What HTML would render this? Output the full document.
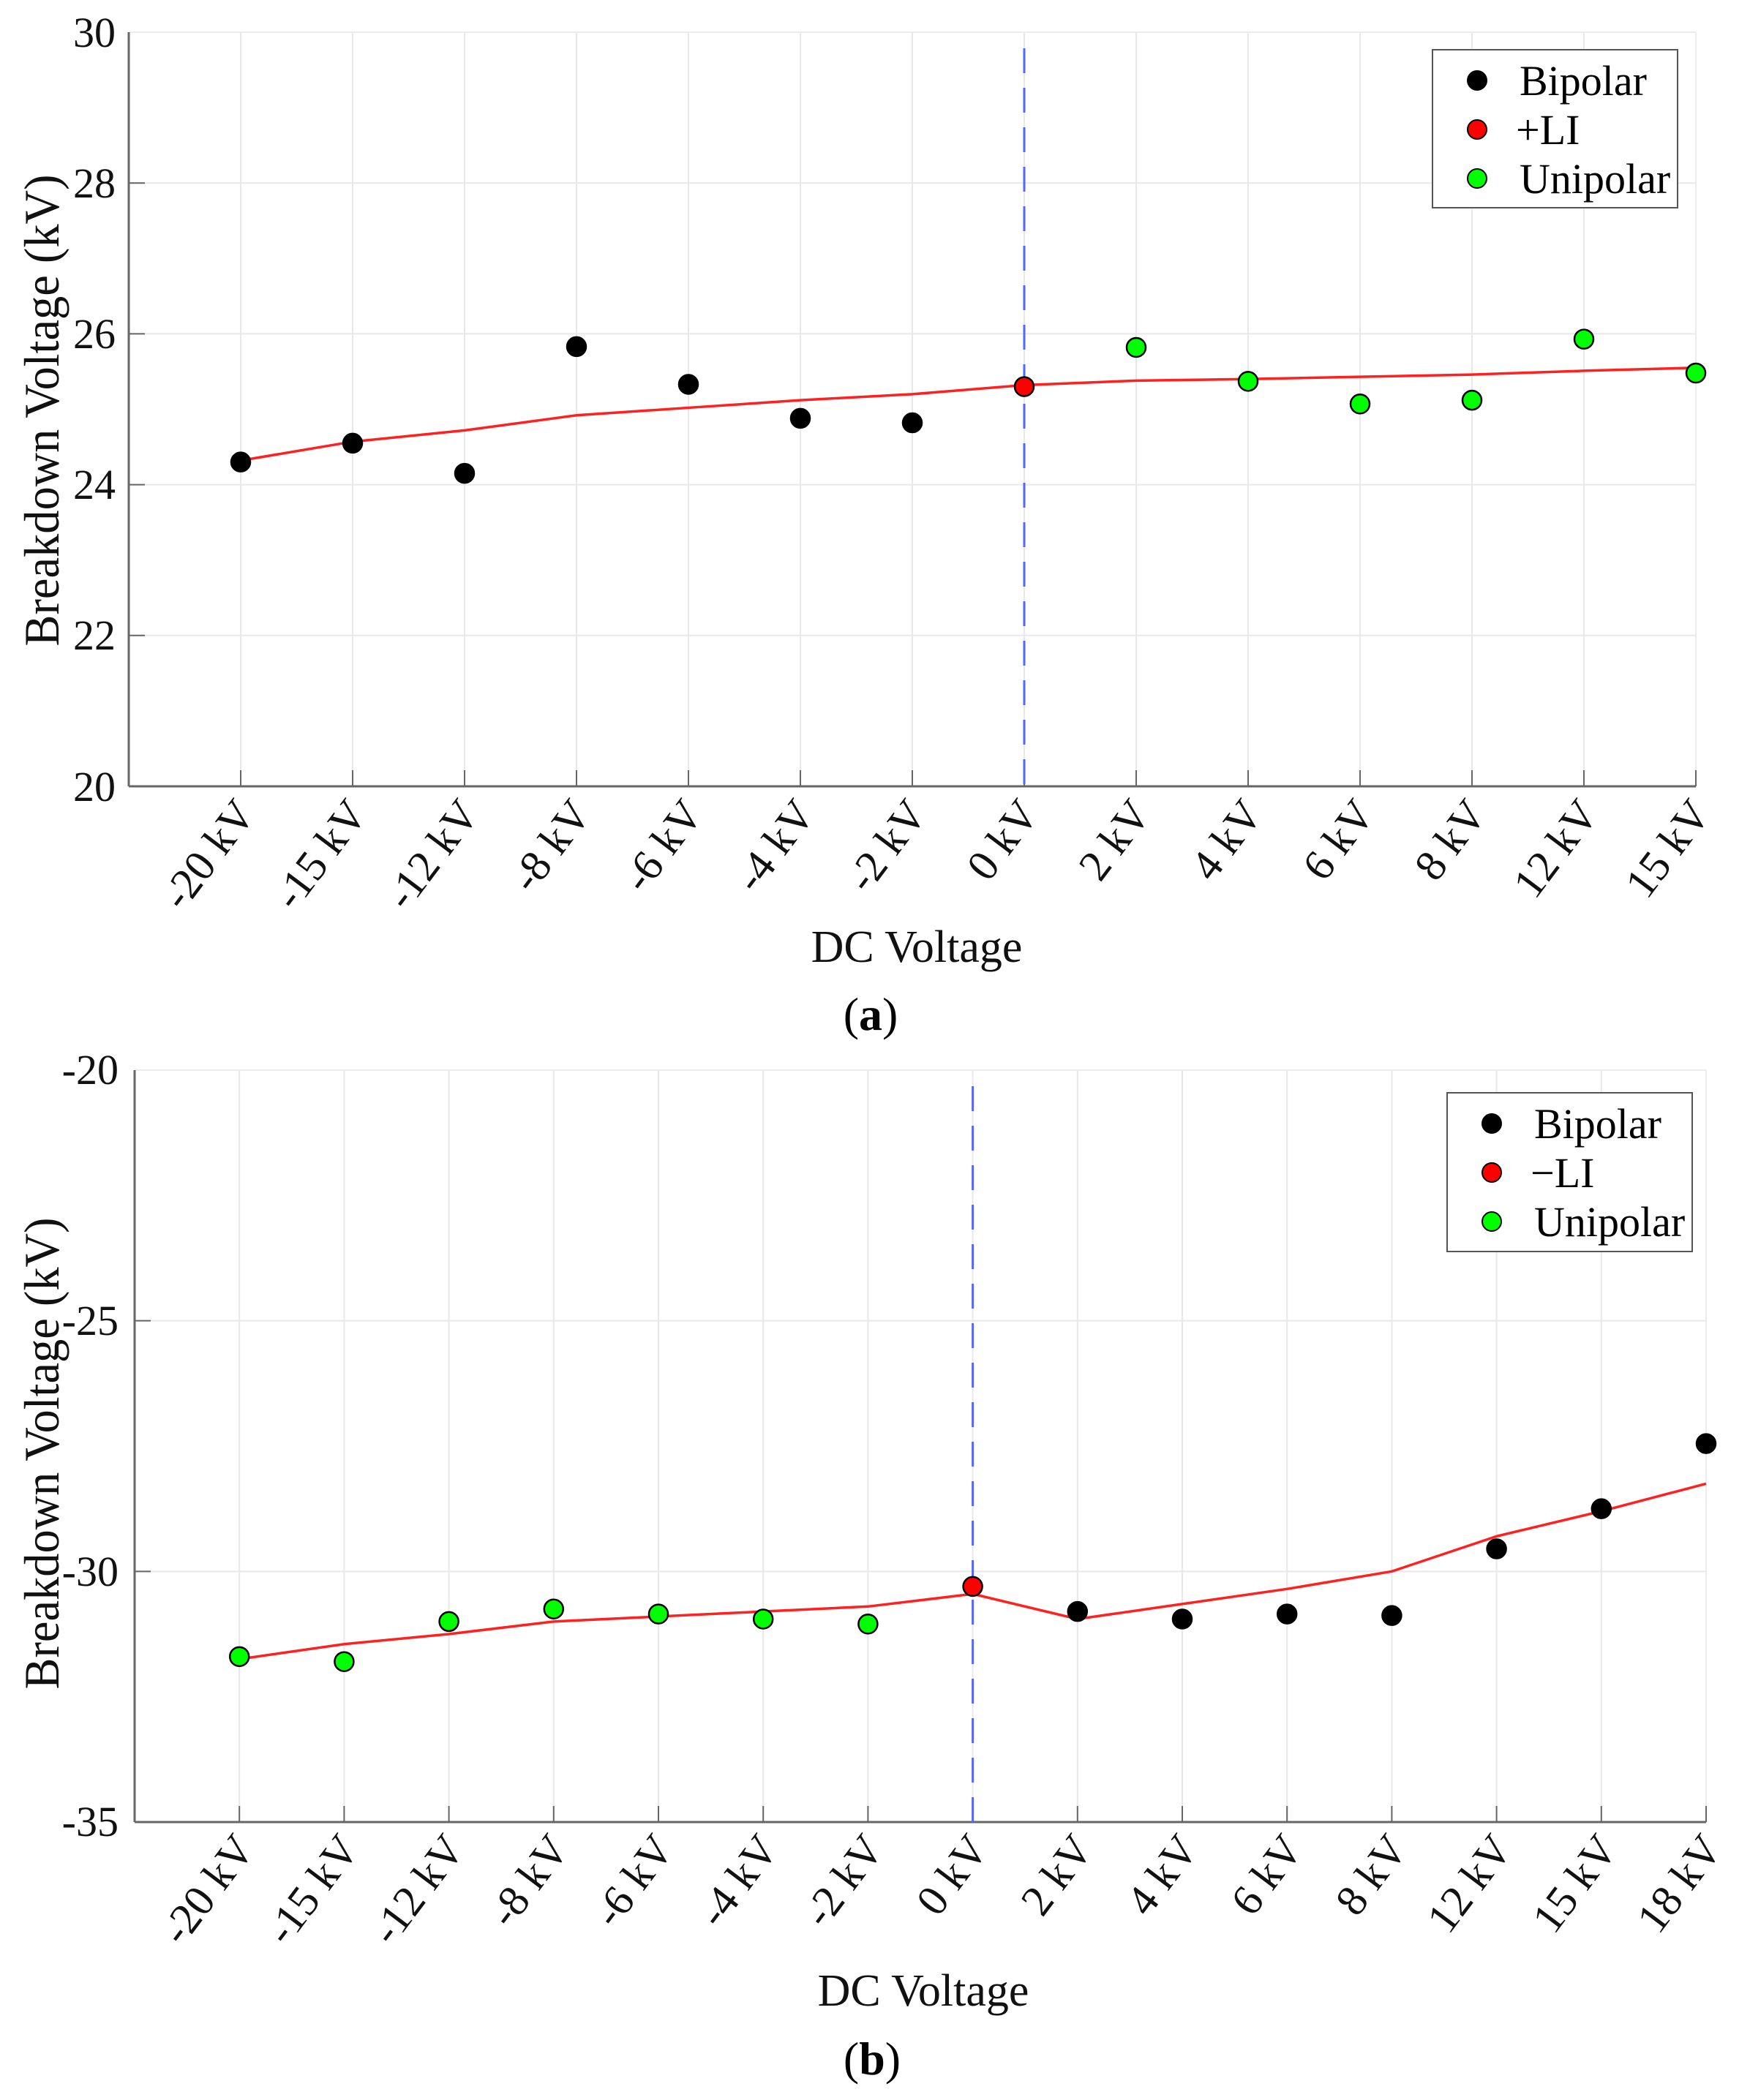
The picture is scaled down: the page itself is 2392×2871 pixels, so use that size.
<!DOCTYPE html>
<html><head><meta charset="utf-8"><style>
html,body{margin:0;padding:0;background:#fff;}
svg{display:block;}
svg text, svg tspan{font-family:"Liberation Serif","DejaVu Serif",serif !important;}
</style></head><body>
<svg id="s" width="2392" height="2871" viewBox="0 0 2392 2871" xmlns="http://www.w3.org/2000/svg" font-family="Liberation Serif, serif">
<rect width="2392" height="2871" fill="#fff"/>
<g id="pa"></g>
<g id="pb"></g>
<g font-size="58" fill="#111" text-anchor="end">
<text x="158" y="64">30</text>
<text x="158" y="270">28</text>
<text x="158" y="476">26</text>
<text x="158" y="682">24</text>
<text x="158" y="888">22</text>
<text x="158" y="1095">20</text>
</g>
<g font-size="60" fill="#111" text-anchor="end">
<text transform="translate(351,1113) rotate(-53)">-20 kV</text>
<text transform="translate(504,1113) rotate(-53)">-15 kV</text>
<text transform="translate(657,1113) rotate(-53)">-12 kV</text>
<text transform="translate(810,1113) rotate(-53)">-8 kV</text>
<text transform="translate(963,1113) rotate(-53)">-6 kV</text>
<text transform="translate(1116,1113) rotate(-53)">-4 kV</text>
<text transform="translate(1269,1113) rotate(-53)">-2 kV</text>
<text transform="translate(1422,1113) rotate(-53)">0 kV</text>
<text transform="translate(1575,1113) rotate(-53)">2 kV</text>
<text transform="translate(1728,1113) rotate(-53)">4 kV</text>
<text transform="translate(1881,1113) rotate(-53)">6 kV</text>
<text transform="translate(2034,1113) rotate(-53)">8 kV</text>
<text transform="translate(2187,1113) rotate(-53)">12 kV</text>
<text transform="translate(2340,1113) rotate(-53)">15 kV</text>
</g>
<text transform="translate(80,561) rotate(-90)" font-size="68" text-anchor="middle" textLength="645" lengthAdjust="spacingAndGlyphs" fill="#111">Breakdown Voltage (kV)</text>
<text x="1253" y="1315" font-size="62" text-anchor="middle" fill="#111">DC Voltage</text>
<text x="1190" y="1408" font-size="64" text-anchor="middle" fill="#000">(<tspan font-weight="bold">a</tspan>)</text>
<rect x="1958" y="68" width="335" height="216" fill="#fff" stroke="#555" stroke-width="2"/>
<circle cx="2019" cy="110" r="13" fill="#000" stroke="#000" stroke-width="2"/>
<circle cx="2019" cy="177" r="13" fill="#f00" stroke="#000" stroke-width="2"/>
<circle cx="2019" cy="244" r="13" fill="#0f0" stroke="#000" stroke-width="2"/>
<g font-size="58" fill="#000">
<text x="2077" y="130">Bipolar</text>
<text x="2072" y="197">+LI</text>
<text x="2077" y="264">Unipolar</text>
</g>
<g font-size="58" fill="#111" text-anchor="end">
<text x="162" y="1482">-20</text>
<text x="162" y="1825">-25</text>
<text x="162" y="2168">-30</text>
<text x="162" y="2510">-35</text>
</g>
<g font-size="60" fill="#111" text-anchor="end">
<text transform="translate(350,2528) rotate(-53)">-20 kV</text>
<text transform="translate(493,2528) rotate(-53)">-15 kV</text>
<text transform="translate(637,2528) rotate(-53)">-12 kV</text>
<text transform="translate(780,2528) rotate(-53)">-8 kV</text>
<text transform="translate(923,2528) rotate(-53)">-6 kV</text>
<text transform="translate(1066,2528) rotate(-53)">-4 kV</text>
<text transform="translate(1210,2528) rotate(-53)">-2 kV</text>
<text transform="translate(1353,2528) rotate(-53)">0 kV</text>
<text transform="translate(1496,2528) rotate(-53)">2 kV</text>
<text transform="translate(1640,2528) rotate(-53)">4 kV</text>
<text transform="translate(1783,2528) rotate(-53)">6 kV</text>
<text transform="translate(1926,2528) rotate(-53)">8 kV</text>
<text transform="translate(2069,2528) rotate(-53)">12 kV</text>
<text transform="translate(2213,2528) rotate(-53)">15 kV</text>
<text transform="translate(2356,2528) rotate(-53)">18 kV</text>
</g>
<text transform="translate(80,1987) rotate(-90)" font-size="68" text-anchor="middle" textLength="645" lengthAdjust="spacingAndGlyphs" fill="#111">Breakdown Voltage (kV)</text>
<text x="1262" y="2742" font-size="62" text-anchor="middle" fill="#111">DC Voltage</text>
<text x="1192" y="2836" font-size="64" text-anchor="middle" fill="#000">(<tspan font-weight="bold">b</tspan>)</text>
<rect x="1978" y="1494" width="335" height="217" fill="#fff" stroke="#555" stroke-width="2"/>
<circle cx="2039" cy="1536" r="13" fill="#000" stroke="#000" stroke-width="2"/>
<circle cx="2039" cy="1603" r="13" fill="#f00" stroke="#000" stroke-width="2"/>
<circle cx="2039" cy="1670" r="13" fill="#0f0" stroke="#000" stroke-width="2"/>
<g font-size="58" fill="#000">
<text x="2097" y="1556">Bipolar</text>
<text x="2092" y="1623">−LI</text>
<text x="2097" y="1690">Unipolar</text>
</g>
</svg>
<script>
var NS="http://www.w3.org/2000/svg";
function add(p,t,a){var e=document.createElementNS(NS,t);for(var k in a)e.setAttribute(k,a[k]);p.appendChild(e);return e;}
function panel(g,L,R,T,B,n,ymin,ymax,yticks,pts,cols,line,zeroIdx){
  var s=(R-L)/n;
  function X(i){return L+s*(i+1);}
  function Y(v){return B-(v-ymin)/(ymax-ymin)*(B-T);}
  for(var i=0;i<n;i++){add(g,'line',{x1:X(i),x2:X(i),y1:T,y2:B,stroke:'#e8e8e8','stroke-width':2});}
  yticks.forEach(function(v){add(g,'line',{x1:L,x2:R,y1:Y(v),y2:Y(v),stroke:'#e8e8e8','stroke-width':2});});
  add(g,'line',{x1:L,x2:R,y1:T,y2:T,stroke:'#ececec','stroke-width':2});
  add(g,'line',{x1:R,x2:R,y1:T,y2:B,stroke:'#ececec','stroke-width':2});
  add(g,'line',{x1:L,x2:R,y1:B,y2:B,stroke:'#666','stroke-width':3});
  add(g,'line',{x1:L,x2:L,y1:T,y2:B,stroke:'#666','stroke-width':3});
  for(var i=0;i<n;i++){add(g,'line',{x1:X(i),x2:X(i),y1:B-22,y2:B,stroke:'#666','stroke-width':2});}
  yticks.forEach(function(v){add(g,'line',{x1:L,x2:L+22,y1:Y(v),y2:Y(v),stroke:'#666','stroke-width':2});});
  add(g,'line',{x1:X(zeroIdx),x2:X(zeroIdx),y1:T+22,y2:B,stroke:'#5566ff','stroke-width':3,'stroke-dasharray':'34,20'});
  var d='';line.forEach(function(v,i){d+=(i?'L':'M')+X(i)+','+Y(v);});
  add(g,'path',{d:d,fill:'none',stroke:'#ff2020','stroke-width':3.5});
  pts.forEach(function(v,i){add(g,'circle',{cx:X(i),cy:Y(v),r:13,fill:cols[i],stroke:'#000','stroke-width':2.5});});
}
var K='#000',Rr='#f00',G='#0f0';
panel(document.getElementById('pa'),176,2318,44,1075,14,20,30,[22,24,26,28],
 [24.3,24.55,24.15,25.83,25.33,24.88,24.82,25.3,25.82,25.37,25.07,25.12,25.93,25.48],
 [K,K,K,K,K,K,K,Rr,G,G,G,G,G,G],
 [24.32,24.57,24.72,24.92,25.02,25.12,25.2,25.32,25.38,25.4,25.43,25.46,25.51,25.55],7);
panel(document.getElementById('pb'),184,2332,1463,2491,15,-35,-20,[-25,-30],
 [-31.7,-31.8,-31.0,-30.75,-30.85,-30.95,-31.05,-30.3,-30.8,-30.95,-30.85,-30.88,-29.55,-28.75,-27.45],
 [G,G,G,G,G,G,G,Rr,K,K,K,K,K,K,K],
 [-31.75,-31.45,-31.25,-31.0,-30.9,-30.8,-30.7,-30.45,-30.95,-30.65,-30.35,-30.0,-29.3,-28.8,-28.25],7);
</script>
</body></html>
